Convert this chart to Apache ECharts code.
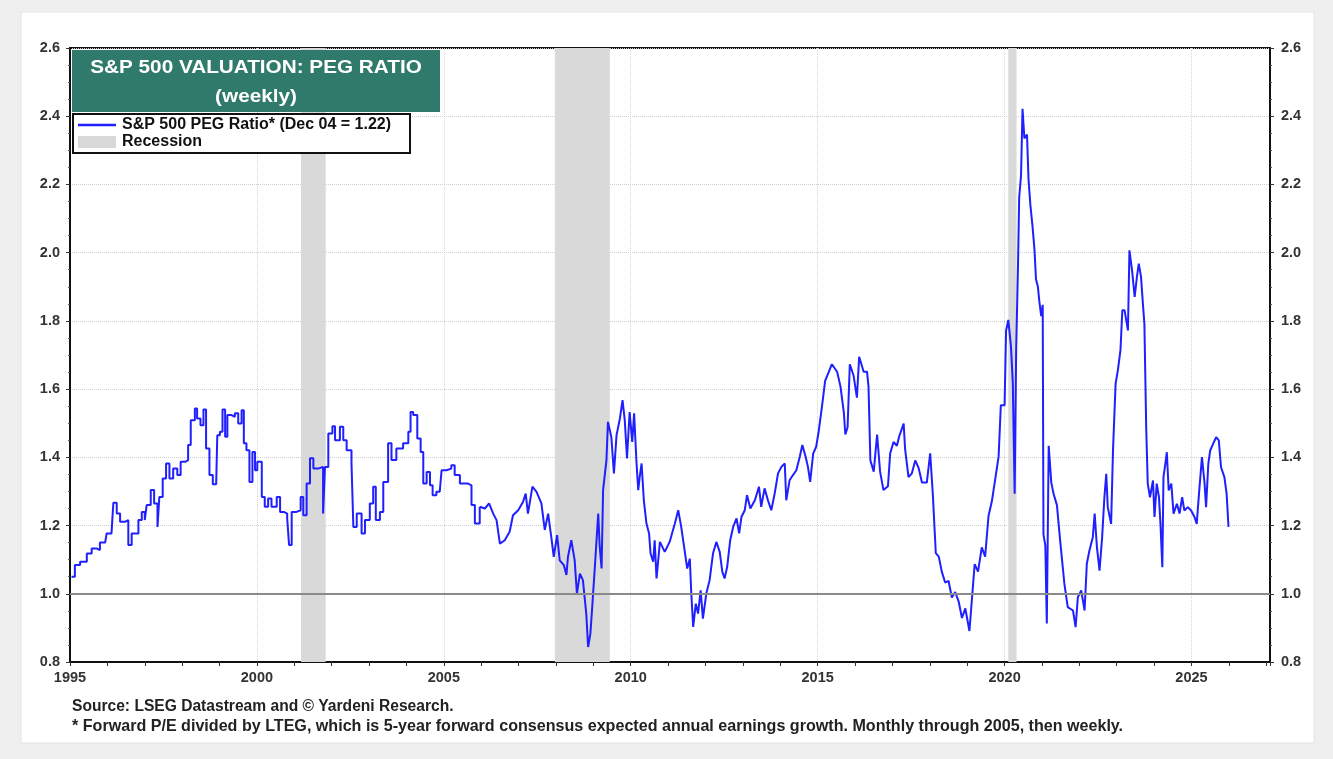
<!DOCTYPE html>
<html>
<head>
<meta charset="utf-8">
<script src="https://cdn.jsdelivr.net/npm/echarts@6/dist/echarts.min.js"></script>
<style>
html, body { margin: 0; padding: 0; background: #efefef; }
#container { width: 1333px; height: 759px; }
</style>
</head>
<body>
<div id="container"></div>
<script>
// monthly readings through 2005
var monthYears = [1995.04,1995.13,1995.27,1995.45,1995.58,1995.71,1995.80,1995.94,1995.98,1996.11,1996.16,1996.25,1996.34,1996.47,1996.56,1996.65,1996.83,1996.92,1997.00,1997.05,1997.16,1997.25,1997.34,1997.39,1997.48,1997.57,1997.66,1997.76,1997.87,1997.96,1998.08,1998.16,1998.23,1998.34,1998.40,1998.49,1998.57,1998.64,1998.73,1998.82,1998.91,1998.94,1999.01,1999.08,1999.15,1999.21,1999.32,1999.41,1999.50,1999.59,1999.65,1999.72,1999.80,1999.88,1999.95,2000.01,2000.13,2000.21,2000.30,2000.39,2000.53,2000.62,2000.72,2000.81,2000.86,2000.93,2001.06,2001.17,2001.24,2001.33,2001.42,2001.51,2001.64,2001.77,2001.82,2001.91,2002.02,2002.09,2002.22,2002.31,2002.40,2002.53,2002.58,2002.67,2002.80,2002.89,2003.02,2003.11,2003.18,2003.29,2003.38,2003.51,2003.60,2003.73,2003.91,2004.05,2004.11,2004.18,2004.29,2004.38,2004.45,2004.54,2004.63,2004.70,2004.80,2004.89,2004.94,2005.07,2005.20,2005.29,2005.43,2005.65,2005.74,2005.83,2005.96];
var monthPeg = [1.05,1.084,1.094,1.118,1.133,1.128,1.15,1.152,1.177,1.179,1.267,1.235,1.211,1.216,1.143,1.177,1.216,1.24,1.216,1.26,1.304,1.265,1.196,1.284,1.338,1.382,1.338,1.367,1.348,1.387,1.392,1.436,1.509,1.543,1.514,1.494,1.54,1.426,1.348,1.321,1.321,1.465,1.475,1.54,1.46,1.524,1.519,1.529,1.499,1.538,1.441,1.421,1.328,1.416,1.362,1.387,1.284,1.255,1.279,1.255,1.284,1.24,1.235,1.221,1.143,1.24,1.245,1.284,1.23,1.323,1.397,1.367,1.372,1.235,1.372,1.47,1.491,1.45,1.49,1.45,1.421,1.382,1.196,1.235,1.177,1.216,1.265,1.314,1.216,1.24,1.328,1.441,1.392,1.426,1.441,1.475,1.533,1.524,1.455,1.416,1.323,1.357,1.318,1.289,1.299,1.304,1.362,1.367,1.377,1.348,1.323,1.318,1.26,1.206,1.255];

// weekly readings from 2006
var weekYears = [2006.10,2006.21,2006.32,2006.41,2006.50,2006.63,2006.76,2006.85,2006.99,2007.12,2007.19,2007.25,2007.37,2007.48,2007.61,2007.70,2007.79,2007.88,2007.94,2008.03,2008.10,2008.21,2008.28,2008.32,2008.41,2008.50,2008.56,2008.64,2008.72,2008.81,2008.86,2008.92,2008.97,2009.04,2009.13,2009.17,2009.22,2009.26,2009.35,2009.39,2009.48,2009.55,2009.62,2009.71,2009.78,2009.84,2009.90,2009.97,2010.04,2010.09,2010.15,2010.20,2010.24,2010.29,2010.35,2010.42,2010.49,2010.53,2010.60,2010.64,2010.69,2010.78,2010.91,2011.04,2011.18,2011.27,2011.35,2011.44,2011.51,2011.58,2011.62,2011.67,2011.74,2011.80,2011.87,2011.93,2012.02,2012.11,2012.20,2012.29,2012.38,2012.45,2012.51,2012.58,2012.66,2012.74,2012.83,2012.90,2012.96,2013.05,2013.11,2013.20,2013.32,2013.43,2013.49,2013.58,2013.67,2013.76,2013.85,2013.94,2014.03,2014.12,2014.16,2014.25,2014.34,2014.43,2014.52,2014.59,2014.68,2014.74,2014.80,2014.88,2014.96,2015.03,2015.12,2015.20,2015.38,2015.52,2015.61,2015.70,2015.74,2015.80,2015.86,2015.96,2016.05,2016.11,2016.23,2016.32,2016.36,2016.41,2016.50,2016.59,2016.67,2016.76,2016.88,2016.94,2017.03,2017.12,2017.18,2017.30,2017.34,2017.43,2017.52,2017.61,2017.70,2017.79,2017.92,2018.01,2018.08,2018.16,2018.24,2018.32,2018.41,2018.50,2018.59,2018.68,2018.77,2018.86,2018.95,2019.06,2019.13,2019.20,2019.29,2019.39,2019.48,2019.57,2019.66,2019.75,2019.84,2019.90,2020.00,2020.04,2020.10,2020.17,2020.22,2020.27,2020.31,2020.36,2020.39,2020.44,2020.48,2020.53,2020.60,2020.64,2020.69,2020.75,2020.80,2020.84,2020.89,2020.93,2020.98,2021.02,2021.04,2021.09,2021.13,2021.18,2021.25,2021.31,2021.40,2021.49,2021.60,2021.69,2021.83,2021.90,2021.96,2022.05,2022.14,2022.20,2022.27,2022.36,2022.41,2022.47,2022.54,2022.61,2022.67,2022.72,2022.76,2022.85,2022.90,2022.97,2023.03,2023.10,2023.15,2023.21,2023.30,2023.34,2023.41,2023.48,2023.54,2023.59,2023.65,2023.70,2023.74,2023.79,2023.83,2023.89,2023.97,2024.01,2024.07,2024.13,2024.17,2024.22,2024.25,2024.30,2024.34,2024.39,2024.46,2024.52,2024.61,2024.68,2024.75,2024.81,2024.90,2024.99,2025.08,2025.14,2025.20,2025.28,2025.35,2025.39,2025.45,2025.50,2025.58,2025.66,2025.73,2025.79,2025.88,2025.94,2025.99];
var weekPeg = [1.25,1.265,1.235,1.216,1.147,1.157,1.182,1.23,1.245,1.27,1.294,1.235,1.314,1.299,1.265,1.187,1.235,1.162,1.108,1.172,1.098,1.084,1.055,1.108,1.157,1.098,1.0,1.059,1.04,0.942,0.844,0.883,0.962,1.079,1.235,1.138,1.074,1.304,1.392,1.504,1.46,1.353,1.465,1.514,1.568,1.509,1.397,1.533,1.445,1.529,1.392,1.304,1.343,1.382,1.274,1.206,1.177,1.118,1.094,1.157,1.045,1.152,1.123,1.152,1.206,1.245,1.196,1.128,1.074,1.103,1.0,0.903,0.971,0.942,1.01,0.927,1.0,1.04,1.118,1.152,1.123,1.064,1.045,1.079,1.157,1.196,1.221,1.177,1.225,1.245,1.289,1.25,1.274,1.314,1.255,1.309,1.274,1.245,1.294,1.353,1.372,1.382,1.274,1.333,1.348,1.362,1.401,1.436,1.401,1.372,1.328,1.411,1.431,1.478,1.553,1.624,1.673,1.651,1.608,1.532,1.467,1.488,1.673,1.64,1.575,1.695,1.651,1.651,1.608,1.391,1.358,1.467,1.358,1.304,1.315,1.412,1.445,1.434,1.461,1.499,1.423,1.342,1.353,1.391,1.369,1.326,1.326,1.412,1.293,1.119,1.109,1.065,1.033,1.038,0.989,1.005,0.978,0.929,0.957,0.891,0.989,1.087,1.065,1.136,1.109,1.228,1.271,1.336,1.402,1.553,1.553,1.771,1.803,1.727,1.619,1.293,1.716,1.966,2.161,2.226,2.422,2.335,2.346,2.216,2.14,2.074,2.009,1.922,1.901,1.857,1.814,1.847,1.174,1.141,0.913,1.434,1.326,1.293,1.26,1.152,1.029,0.961,0.951,0.902,0.99,1.01,0.951,1.088,1.127,1.166,1.235,1.137,1.068,1.166,1.283,1.352,1.254,1.205,1.42,1.616,1.655,1.714,1.831,1.831,1.772,2.007,1.948,1.87,1.929,1.968,1.929,1.85,1.792,1.479,1.323,1.283,1.332,1.225,1.323,1.283,1.205,1.078,1.342,1.381,1.415,1.303,1.323,1.235,1.264,1.235,1.283,1.244,1.254,1.244,1.225,1.205,1.293,1.401,1.323,1.254,1.381,1.42,1.44,1.459,1.45,1.371,1.342,1.293,1.196,1.22];

// recessions
var recStart = [2001.18, 2007.97, 2020.10];
var recEnd = [2001.84, 2009.44, 2020.32];

var yTicks = [0.8, 2.6, 0.2];
var xTicks = [1995, 2027.1, 5];

var seriesName = 'S&P 500 PEG Ratio* (Dec 04 = 1.22)';
var lineColor = '#1f1fff';
var FONT = "'Liberation Sans', Arial, sans-serif";

var dom = document.getElementById('container');
var myChart = echarts.init(dom);

var monthData = monthYears.map(function (y, i) { return [y, monthPeg[i]]; });
var weekData = [[monthYears[monthYears.length - 1], monthPeg[monthPeg.length - 1]]].concat(
    weekYears.map(function (y, i) { return [y, weekPeg[i]]; }));

var recAreas = recStart.map(function (s, i) {
    return [{ xAxis: s }, { xAxis: recEnd[i] }];
});

var axisLabelStyle = {
    color: '#333',
    fontFamily: FONT,
    fontWeight: 'bold',
    fontSize: 14.5
};

function yAxis(pos) {
    return {
        type: 'value',
        position: pos,
        min: yTicks[0],
        max: yTicks[1],
        interval: yTicks[2],
        axisLine: { show: true, lineStyle: { color: '#111', width: 2 } },
        axisTick: { show: true, length: 4, lineStyle: { color: '#333' } },
        minorTick: { show: true, splitNumber: 4, length: 2, lineStyle: { color: '#555' } },
        splitLine: { show: pos === 'left', lineStyle: { color: '#cfcfcf', type: 'dotted', width: 1 } },
        axisLabel: Object.assign({
            margin: pos === 'left' ? 10 : 11,
            formatter: function (v) { return v.toFixed(1); }
        }, axisLabelStyle)
    };
}

function titleText(txt, y) {
    return {
        type: 'text', z: 51,
        x: 256, y: y, scaleX: 1.12,
        style: {
            x: 0, y: 0, text: txt,
            align: 'center', verticalAlign: 'middle', fill: '#ffffff',
            fontFamily: 'Liberation Sans', fontWeight: 'bold', fontSize: 18.5
        }
    };
}

function footText(txt, y, size) {
    return {
        type: 'text',
        style: {
            x: 72, y: y, text: txt,
            verticalAlign: 'middle', fill: '#222',
            fontFamily: 'Liberation Sans', fontWeight: 'bold', fontSize: size
        }
    };
}

var option = {
    backgroundColor: '#efefef',
    animation: false,
    graphic: [
        {
            type: 'rect', z: -100, silent: true,
            shape: { x: 21, y: 12, width: 1293, height: 731 },
            style: { fill: '#ffffff', stroke: '#e4e4e4', lineWidth: 1 }
        },
        {
            type: 'rect', z: 50,
            shape: { x: 72, y: 50, width: 368, height: 62 },
            style: { fill: '#2f7a6b' }
        },
        titleText('S&P 500 VALUATION: PEG RATIO', 68),
        titleText('(weekly)', 97),
        footText('Source: LSEG Datastream and \u00a9 Yardeni Research.', 707, 15.6),
        footText('* Forward P/E divided by LTEG, which is 5-year forward consensus expected annual earnings growth. Monthly through 2005, then weekly.', 727, 16.1)
    ],
    legend: {
        orient: 'vertical',
        left: 73,
        top: 114,
        z: 60,
        backgroundColor: '#ffffff',
        borderColor: '#111',
        borderWidth: 2,
        borderRadius: 0,
        padding: [3, 19, 3, 5],
        itemGap: 1,
        itemWidth: 38,
        itemHeight: 12,
        selectedMode: false,
        textStyle: { color: '#111', fontFamily: FONT, fontWeight: 'bold', fontSize: 16, padding: [0, 0, 0, 1] },
        data: [
            { name: seriesName, icon: 'path://M0,0H40V2.6H0Z', itemStyle: { color: lineColor } },
            { name: 'Recession', icon: 'rect', itemStyle: { color: '#d9d9d9' } }
        ]
    },
    grid: {
        left: 70,
        right: 63,
        top: 48,
        bottom: 97,
        show: true,
        borderColor: '#111',
        borderWidth: 2,
        backgroundColor: 'transparent'
    },
    xAxis: {
        type: 'value',
        min: xTicks[0],
        max: xTicks[1],
        interval: xTicks[2],
        axisLine: { show: true, onZero: false, lineStyle: { color: '#111', width: 2 } },
        axisTick: { show: true, length: 4, lineStyle: { color: '#333' } },
        minorTick: { show: true, splitNumber: 5, length: 4, lineStyle: { color: '#333' } },
        splitLine: { show: true, lineStyle: { color: '#d6d6d6', type: 'dotted', width: 1 } },
        axisLabel: Object.assign({
            margin: 8,
            showMaxLabel: false,
            formatter: function (v) { return String(Math.round(v)); }
        }, axisLabelStyle)
    },
    yAxis: [yAxis('left'), yAxis('right')],
    series: [
        {
            name: 'Recession',
            type: 'line',
            data: [],
            z: 1,
            itemStyle: { color: '#d9d9d9' },
            markArea: {
                silent: true,
                itemStyle: { color: '#d9d9d9' },
                data: recAreas
            }
        },
        {
            name: seriesName,
            type: 'line',
            data: monthData,
            step: 'end',
            z: 4,
            showSymbol: false,
            color: lineColor,
            lineStyle: { color: lineColor, width: 2 }
        },
        {
            name: seriesName,
            type: 'line',
            data: weekData,
            z: 4,
            showSymbol: false,
            color: lineColor,
            lineStyle: { color: lineColor, width: 2 },
            markLine: {
                silent: true,
                symbol: 'none',
                label: { show: false },
                lineStyle: { color: '#8a8a8a', width: 2, type: 'solid' },
                data: [{ yAxis: 1.0 }]
            }
        }
    ]
};

myChart.setOption(option);
</script>
</body>
</html>
